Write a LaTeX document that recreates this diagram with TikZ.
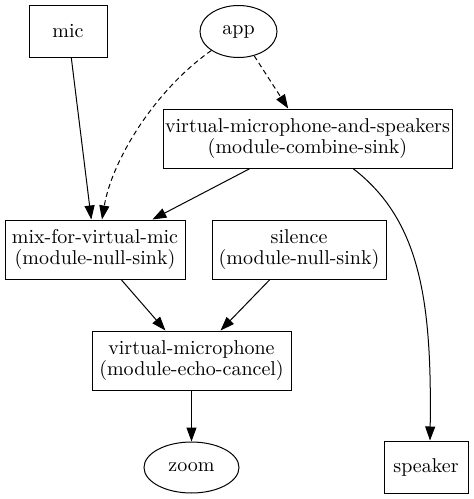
\documentclass[tikz,border=0pt]{standalone}
\usepackage{fontspec}
\setmainfont{lmroman10-regular.otf}
\usepackage{tikz}
\usetikzlibrary{arrows.meta}
\usetikzlibrary{shapes.geometric}
\tikzset{
  modbox/.style={draw, line width=1pt, rectangle, inner sep=0, align=center, font=\fontsize{20}{21}\selectfont},
  endpoint/.style={draw, line width=1pt, ellipse, inner sep=0, font=\fontsize{20}{21}\selectfont},
  link/.style={line width=1pt, -{Triangle[length=14pt,width=10pt]}},
  weaklink/.style={link, dash pattern=on 5pt off 3.5pt}
}

\begin{document}
\begin{tikzpicture}[x=1pt, y=-1pt]
\useasboundingbox (0,0) rectangle (474,499);
\node[modbox, minimum width=78, minimum height=52] (mic) at (68,31) {mic};
\node[endpoint, minimum width=77, minimum height=52] (app) at (238.5,31.5) {app};
\node[modbox, minimum width=289, minimum height=59] (vmas) at (307.5,138.5) {virtual-microphone-and-speakers\\(module-combine-sink)};
\node[modbox, minimum width=180, minimum height=59] (mix) at (95,249.5) {mix-for-virtual-mic\\(module-null-sink)};
\node[modbox, minimum width=174, minimum height=59] (silence) at (299,249.5) {silence\\(module-null-sink)};
\node[modbox, minimum width=199, minimum height=59] (vmic) at (191.5,360.5) {virtual-microphone\\(module-echo-cancel)};
\node[endpoint, minimum width=95, minimum height=51] (zoom) at (191.5,467.5) {zoom};
\node[modbox, minimum width=84, minimum height=52] (speaker) at (426,467) {speaker};

\draw[link] (mic) -- (mix);
\draw[weaklink] (app) .. controls (155,90) and (112,160) .. ([xshift=7pt]mix.north);
\draw[weaklink] (app) -- (vmas);
\draw[link] (vmas) -- (mix);
\draw[link] ([xshift=45.5pt]vmas.south) .. controls (420,220) and (432,300) .. ([xshift=4pt]speaker.north);
\draw[link] (mix) -- (vmic);
\draw[link] (silence) -- (vmic);
\draw[link] (vmic) -- (zoom);
\end{tikzpicture}
\end{document}
